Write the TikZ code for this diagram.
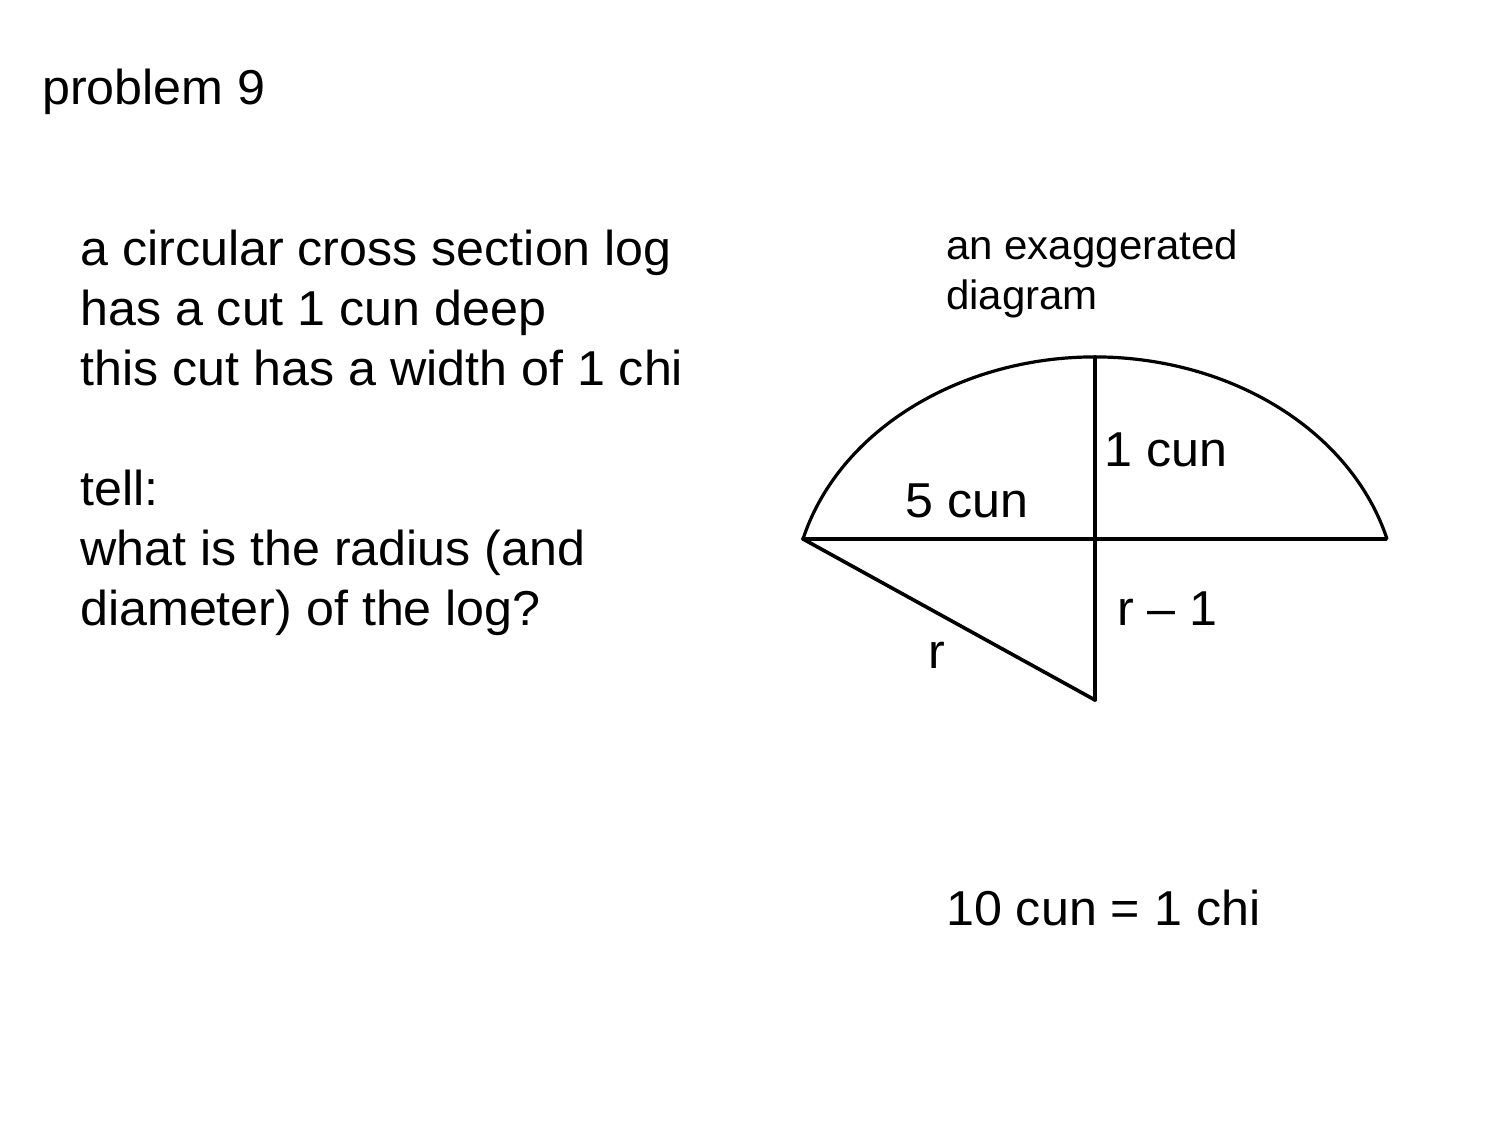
\documentclass[tikz,border=0pt]{standalone}
\usepackage{fontspec}
\setmainfont{Liberation Sans}[FakeStretch=1.025]
\begin{document}
\begin{tikzpicture}[x=1pt,y=-1pt,
  txt/.style={anchor=base west,inner sep=0pt,font=\fontsize{49}{58}\selectfont},
  small/.style={anchor=base west,inner sep=0pt,font=\fontsize{41}{50}\selectfont},
  seg/.style={line width=3.6pt,line cap=round,line join=round},
  arcline/.style={line width=3.2pt}]
\useasboundingbox (0,0) rectangle (1500,1125);
% text
\node[txt] (title) at (42,104) {problem 9};
\node[txt] (l1) at (80,265) {a circular cross section log};
\node[txt] (l2) at (80,325) {has a cut 1 cun deep};
\node[txt] (l3) at (80,385) {this cut has a width of 1 chi};
\node[txt] (l4) at (80,505) {tell:};
\node[txt] (l5) at (80,565) {what is the radius (and};
\node[txt] (l6) at (80,625) {diameter) of the log?};
\node[small] (e1) at (946,259) {an exaggerated};
\node[small] (e2) at (946,309) {diagram};
\node[txt] (eq) at (946,925) {10 cun = 1 chi};
% geometry
\coordinate (A) at (803,539);
\coordinate (B) at (1386,539);
\coordinate (T) at (1095,357);
\coordinate (M) at (1095,539);
\coordinate (O) at (1095,700);
\draw[arcline] (A) arc[start angle=195,end angle=345,x radius=302.3,y radius=245.6];
\draw[seg] (A) -- (M) -- (B);
\draw[seg] (T) -- (O);
\draw[seg] (A) -- (O);
% labels
\node[txt] (one) at (1104,466) {1 cun};
\node[txt] (five) at (905,517) {5 cun};
\node[txt] (rm) at (1117,625) {r – 1};
\node[txt] (r) at (928,668) {r};
\end{tikzpicture}
\end{document}
